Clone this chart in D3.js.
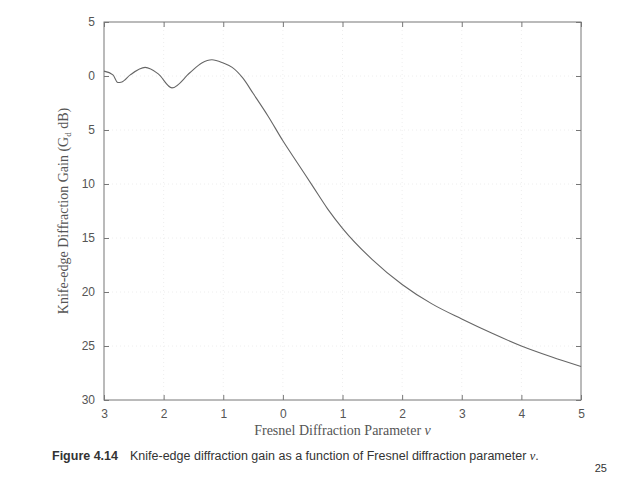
<!DOCTYPE html>
<html><head><meta charset="utf-8">
<script src="https://cdn.jsdelivr.net/npm/d3@7"></script>
<style>body{margin:0;background:#fff}</style></head>
<body><svg id="c" width="638" height="478"></svg>
<script>
const vValues=[-3,-2.85,-2.77,-2.7,-2.56,-2.31,-2.09,-1.86,-1.56,-1.36,-1.19,-1.0,-0.85,-0.67,-0.5,-0.25,0,0.25,0.5,0.75,1,1.5,2,2.5,3,3.5,4,4.5,5];
const gainDb=[0.45,0.1,-0.6,-0.55,0.1,0.8,0.2,-1.1,0.3,1.2,1.5,1.2,0.8,-0.2,-1.6,-3.7,-6,-8.1,-10.2,-12.3,-14.1,-17.0,-19.3,-21.1,-22.5,-23.8,-25.0,-26.0,-26.9];
const xTicks=[-3,-2,-1,0,1,2,3,4,5];
const yTicks=[5,0,-5,-10,-15,-20,-25,-30];
const svg=d3.select("#c");
const L=104,R=581,T=22,B=400;
const x=d3.scaleLinear().domain([-3,5]).range([L,R]);
const y=d3.scaleLinear().domain([-30,5]).range([B,T]);
const col="#777";
svg.append("g").selectAll("line").data(xTicks.slice(1,-1)).join("line")
 .attr("x1",d=>x(d)).attr("x2",d=>x(d)).attr("y1",T).attr("y2",B)
 .attr("stroke","#eee").attr("stroke-dasharray","1,3");
svg.append("g").selectAll("line").data(yTicks.slice(1,-1)).join("line")
 .attr("y1",d=>y(d)).attr("y2",d=>y(d)).attr("x1",L).attr("x2",R)
 .attr("stroke","#eee").attr("stroke-dasharray","1,3");
svg.append("rect").attr("x",L).attr("y",T).attr("width",R-L).attr("height",B-T)
 .attr("fill","none").attr("stroke",col).attr("stroke-width",1);
const fmt=d=>String(Math.abs(d));
const ax=(g)=>g.call(s=>s.select(".domain").remove()).call(s=>s.selectAll("line").attr("stroke",col))
 .call(s=>s.selectAll("text").attr("fill","#555").style("font-family","Liberation Sans, Arial").style("font-size","12px"));
svg.append("g").attr("transform",`translate(0,${B})`)
 .call(d3.axisBottom(x).tickValues(xTicks).tickFormat(fmt).tickSizeInner(-5).tickSizeOuter(0).tickPadding(9)).call(ax);
svg.append("g").attr("transform",`translate(0,${T})`)
 .call(d3.axisTop(x).tickValues(xTicks).tickFormat("").tickSizeInner(-5).tickSizeOuter(0)).call(ax);
svg.append("g").attr("transform",`translate(${L},0)`)
 .call(d3.axisLeft(y).tickValues(yTicks).tickFormat(fmt).tickSizeInner(-5).tickSizeOuter(0).tickPadding(9)).call(ax);
svg.append("g").attr("transform",`translate(${R},0)`)
 .call(d3.axisRight(y).tickValues(yTicks).tickFormat("").tickSizeInner(-5).tickSizeOuter(0)).call(ax);
const pts=vValues.map((v,i)=>[v,gainDb[i]]);
svg.append("path").datum(pts).attr("fill","none").attr("stroke","#666").attr("stroke-width",1.1)
 .attr("d",d3.line().x(d=>x(d[0])).y(d=>y(d[1])).curve(d3.curveMonotoneX));
svg.append("text").attr("x",(L+R)/2).attr("y",435).attr("text-anchor","middle")
 .style("font-family","Liberation Serif, Times New Roman").style("font-size","14px").attr("fill","#555")
 .html('Fresnel Diffraction Parameter <tspan font-style="italic">v</tspan>');
svg.append("text").attr("transform",`translate(68,${(T+B)/2}) rotate(-90)`).attr("text-anchor","middle")
 .style("font-family","Liberation Serif, Times New Roman").style("font-size","14px").attr("fill","#555")
 .html('Knife-edge Diffraction Gain (G<tspan font-size="9px" dy="3">d</tspan><tspan dy="-3"> dB)</tspan>');
svg.append("text").attr("x",52).attr("y",460).style("font-family","Liberation Sans, Arial").style("font-size","12.5px").attr("fill","#333")
 .html('<tspan font-weight="bold">Figure 4.14</tspan><tspan dx="12">Knife-edge diffraction gain as a function of Fresnel diffraction parameter </tspan><tspan font-family="Liberation Serif" font-style="italic">v</tspan>.');
svg.append("text").attr("x",607).attr("y",472).attr("text-anchor","end").style("font-family","Liberation Sans, Arial").style("font-size","11px").attr("fill","#333").text("25");
</script></body></html>
